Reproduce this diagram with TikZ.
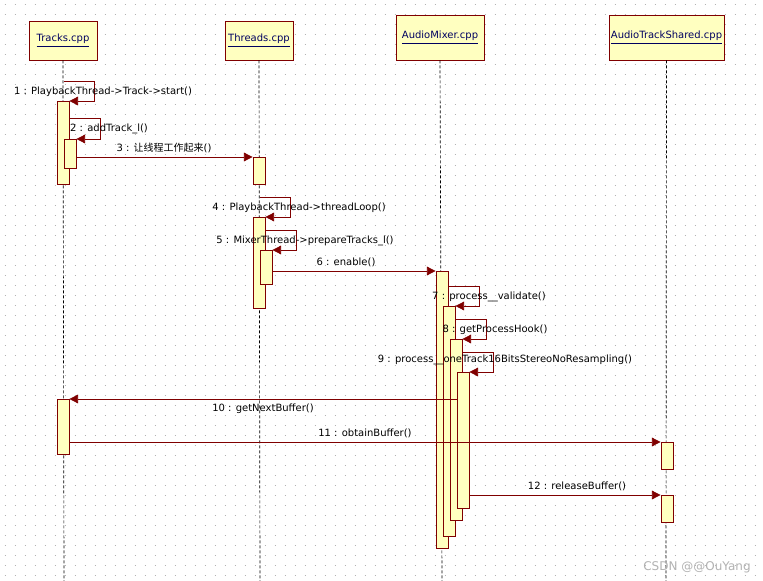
\documentclass[tikz,border=0pt]{standalone}
\usepackage{fontspec}
\setmainfont{DejaVu Sans}
\newfontfamily\cjk{Noto Sans CJK SC}
\usetikzlibrary{arrows.meta,fit}
\definecolor{ln}{HTML}{800000}
\definecolor{fl}{HTML}{FFFFC0}
\definecolor{hd}{HTML}{000060}
\tikzset{
  x=0.75pt,y=-0.75pt,
  act/.style={draw=ln,fill=fl,inner sep=0pt,line width=0.6pt},
  head/.style={draw=ln,fill=fl,inner sep=0pt,line width=0.6pt,font=\fontsize{7.5}{9}\selectfont,text=hd},
  life/.style={black,dash pattern=on 2.25pt off 1.5pt,line width=0.5pt},
  msg/.style={ln,line width=0.6pt,-{Triangle[length=6.5pt,width=6.5pt]}},
  lbl/.style={font=\fontsize{7.5}{9}\selectfont,inner sep=0pt},
}
\newcommand{\actbox}[5]{\path (#2,#3) coordinate (#1-a) (#4,#5) coordinate (#1-b); \node[act,fit=(#1-a)(#1-b)] (#1) {};}
\newcommand{\headbox}[6]{\path (#2,#3) coordinate (#1-a) (#4,#5) coordinate (#1-b); \node[head,fit=(#1-a)(#1-b),label={[head,draw=none,fill=none]center:\underline{#6}}] (#1) {};}
\begin{document}
\begin{tikzpicture}
\useasboundingbox (0,0) rectangle (763,581);
\fill[white] (0,0) rectangle (763,581);
% dotted grid
\foreach \yy in {5,15,...,575}
  \draw[gray!60,line width=0.75pt,dash pattern=on 0.75pt off 6.75pt,dash phase=-3.375pt] (0,\yy) -- (763,\yy);
% heads
\headbox{tr}{29}{21}{97}{60}{Tracks.cpp}
\headbox{th}{225}{21}{293}{60}{Threads.cpp}
\headbox{am}{396}{15}{484}{60}{AudioMixer.cpp}
\headbox{ats}{609}{15}{724}{60}{AudioTrackShared.cpp}
% lifelines
\coordinate (trE) at (64,581); \coordinate (thE) at (260,581);
\coordinate (amE) at (442,581); \coordinate (atsE) at (666,581);
\draw[life] (tr.south) -- (trE);
\draw[life] (th.south) -- (thE);
\draw[life] (am.south) -- (amE);
\draw[life] (ats.south) -- (atsE);
% activations
\actbox{tr1}{57}{101}{69}{184}
\actbox{tr2}{64}{139}{76}{168}
\actbox{tr3}{57}{399}{69}{454}
\actbox{th1}{253}{157}{265}{184}
\actbox{th2}{253}{217}{265}{308}
\actbox{th3}{260}{250}{272}{284}
\actbox{am1}{436}{271}{448}{548}
\actbox{am2}{443}{306}{455}{536}
\actbox{am3}{450}{339}{462}{520}
\actbox{am4}{457}{372}{469}{508}
\actbox{ats1}{661}{442}{673}{469}
\actbox{ats2}{661}{495}{673}{522}
% self calls
\draw[msg] (64,81) -- (94,81) -- (94,101) -- (tr1.east |- 0,101);
\draw[msg] (tr1.east |- 0,118) -- (100,118) -- (100,139) -- (tr2.east |- 0,139);
\draw[msg] (260,197) -- (290,197) -- (290,217) -- (th2.east |- 0,217);
\draw[msg] (th2.east |- 0,230) -- (296,230) -- (296,250) -- (th3.east |- 0,250);
\draw[msg] (am1.east |- 0,286) -- (479,286) -- (479,306) -- (am2.east |- 0,306);
\draw[msg] (am2.east |- 0,319) -- (486,319) -- (486,339) -- (am3.east |- 0,339);
\draw[msg] (am3.east |- 0,352) -- (493,352) -- (493,372) -- (am4.east |- 0,372);
% messages
\draw[msg] (tr2.east |- 0,157) -- (th1.west |- 0,157);
\draw[msg] (th3.east |- 0,271) -- (am1.west |- 0,271);
\draw[msg] (am4.west |- 0,399) -- (tr3.east |- 0,399);
\draw[msg] (tr3.east |- 0,442) -- (ats1.west |- 0,442);
\draw[msg] (am4.east |- 0,495) -- (ats2.west |- 0,495);
% labels
\node[lbl] (l1) at (103,92) {1 : PlaybackThread->Track->start()};
\node[lbl] (l2) at (109,129) {2 : addTrack\_l()};
\node[lbl] (l3) at (164,148) {3 : {\cjk 让线程工作起来}()};
\node[lbl] (l4) at (299,208) {4 : PlaybackThread->threadLoop()};
\node[lbl] (l5) at (305,241) {5 : MixerThread->prepareTracks\_l()};
\node[lbl] (l6) at (346,262) {6 : enable()};
\node[lbl] (l7) at (489,297) {7 : process\_\_validate()};
\node[lbl] (l8) at (495,330) {8 : getProcessHook()};
\node[lbl] (l9) at (505,360) {9 : process\_\_oneTrack16BitsStereoNoResampling()};
\node[lbl] (l10) at (263,409) {10 : getNextBuffer()};
\node[lbl] (l11) at (365,433) {11 : obtainBuffer()};
\node[lbl] (l12) at (577,486) {12 : releaseBuffer()};
\node[lbl,text=gray!60,font=\fontsize{9}{10}\selectfont] (wm) at (697,567) {CSDN @@OuYang};
\end{tikzpicture}
\end{document}
